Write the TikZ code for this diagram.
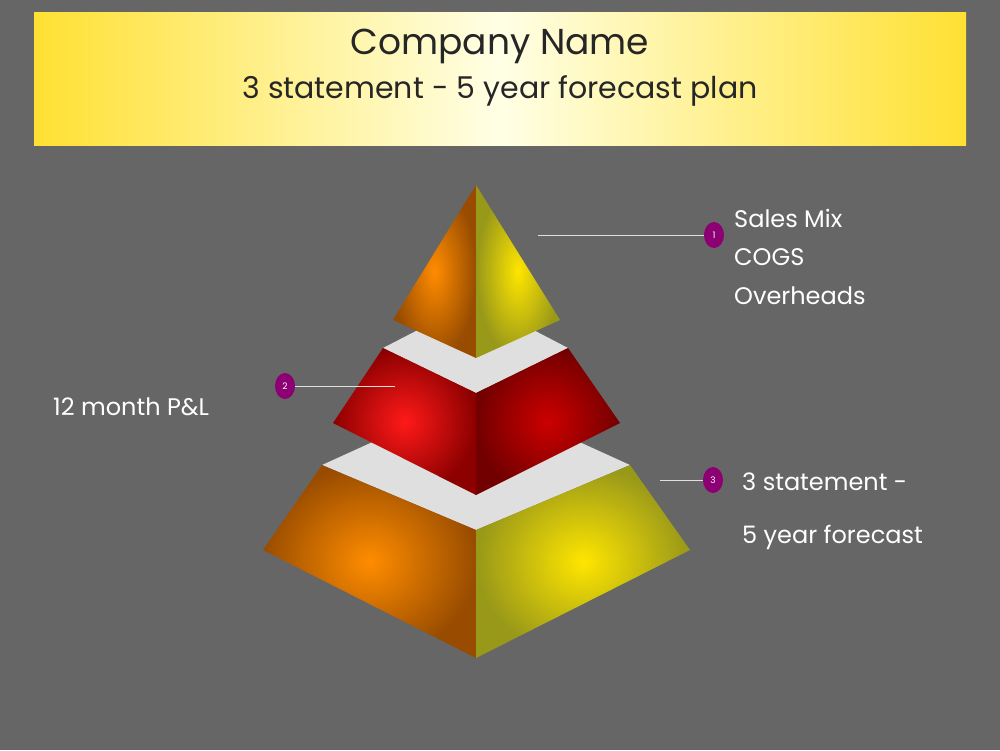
\documentclass[tikz,border=0pt]{standalone}
\usepackage{fontspec}
\setmainfont{Poppins}
\usetikzlibrary{shapes.geometric}
\begin{document}
\begin{tikzpicture}[x=1pt,y=-1pt,
  lbl/.style={text=white,anchor=west,font=\fontsize{24}{28}\selectfont,inner sep=0},
  ldr/.style={draw=white!75!gray,line width=0.7pt},
  dot/.style={ellipse,fill=violet!80!purple,minimum width=20,minimum height=26,inner sep=0,text=white,font=\fontsize{9}{10}\selectfont},
  band/.style={fill=gray!25}]
\fill[black!60] (0,0) rectangle (1000,750);
\useasboundingbox (0,0) rectangle (1000,750);
\shade[left color=yellow!70!orange!80,right color=yellow!70!orange!80,middle color=yellow!10!white] (34,12) rectangle (966,145);
\node[font=\fontsize{36}{40}\selectfont,text=black!85] (t1) at (500,46) {Company Name};
\node[font=\fontsize{30}{34}\selectfont,text=black!85] (t2) at (500,91) {3 statement - 5 year forecast plan};
% bottom tier
\fill[band] (322,465) -- (476,395) -- (630,465) -- (476,530) -- cycle;
\shade[inner color=orange!90!yellow,outer color=orange!60!black] (322,465) -- (476,530) -- (476,658) -- (263,550) -- cycle;
\shade[inner color=yellow!80!orange,outer color=yellow!55!black!90] (476,530) -- (630,465) -- (690,550) -- (476,658) -- cycle;
% middle tier
\fill[band] (383,348) -- (476,300) -- (568,348) -- (476,393) -- cycle;
\shade[inner color=red!90,outer color=red!55!black] (383,348) -- (476,393) -- (476,495) -- (333,423) -- cycle;
\shade[inner color=red!80!black,outer color=red!45!black] (476,393) -- (568,348) -- (620,423) -- (476,495) -- cycle;
% top tier
\shade[inner color=orange!90!yellow,outer color=orange!60!black] (476,185) -- (476,358) -- (393,320) -- cycle;
\shade[inner color=yellow!80!orange,outer color=yellow!55!black!90] (476,185) -- (560,320) -- (476,358) -- cycle;
% callouts
\coordinate (a1) at (538,235);
\node[dot] (d1) at (714,235) {1};
\draw[ldr] (a1) -- (d1.west);
\node[lbl] (l1a) at (734,218) {Sales Mix};
\node[lbl] (l1b) at (734,257) {COGS};
\node[lbl] (l1c) at (734,296) {Overheads};
\coordinate (a2) at (395,386);
\node[dot] (d2) at (285,386) {2};
\draw[ldr] (d2.east) -- (a2);
\node[lbl] (l2) at (53,407) {12 month P\&L};
\coordinate (a3) at (660,480);
\node[dot] (d3) at (713,480) {3};
\draw[ldr] (a3) -- (d3.west);
\node[lbl] (l3a) at (742,482) {3 statement -};
\node[lbl] (l3b) at (742,537) {5 year forecast};
\end{tikzpicture}
\end{document}
